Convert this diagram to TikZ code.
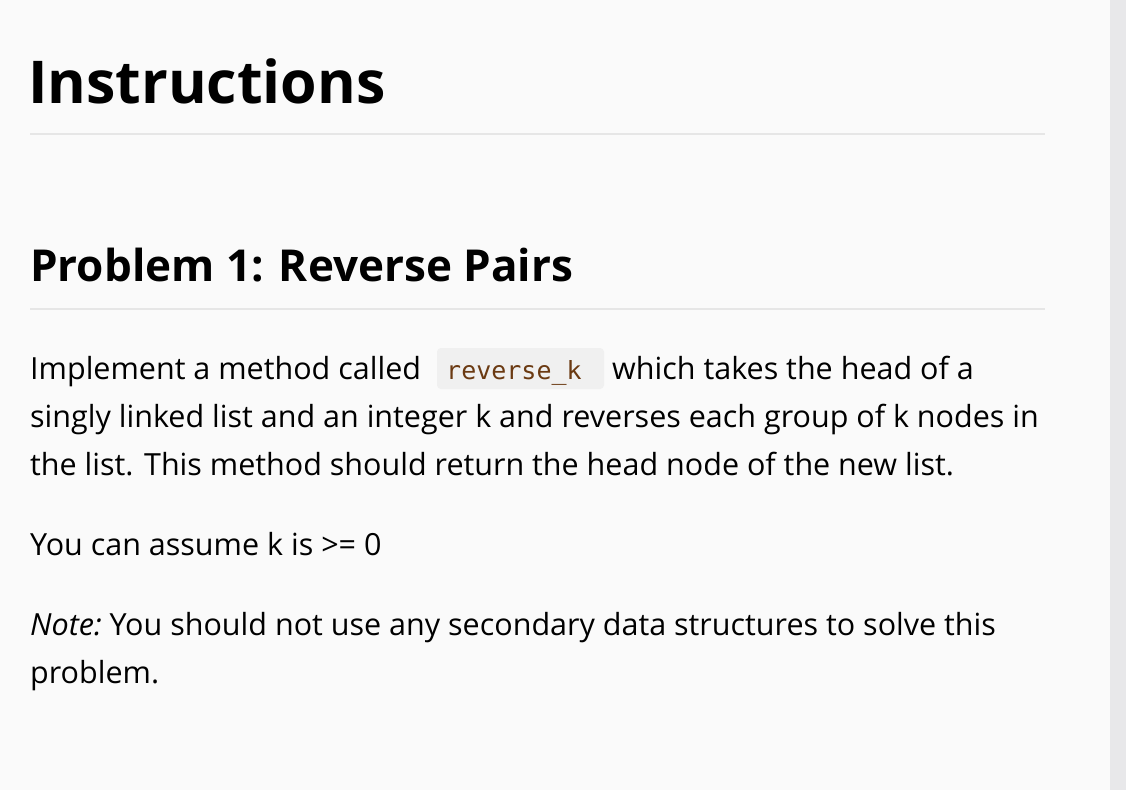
\documentclass[tikz,border=0pt]{standalone}
\usepackage{fontspec}
\setmainfont{Open Sans}
\setmonofont{DejaVu Sans Mono}
\definecolor{codebg}{HTML}{F0F0F0}
\definecolor{codefg}{HTML}{6B3A12}
\definecolor{rulec}{HTML}{E6E6E6}
\definecolor{barc}{HTML}{E8E8EA}
\begin{document}
\begin{tikzpicture}[x=1pt,y=-1pt,
  txt/.style={anchor=base west,inner sep=0pt,font=\fontsize{30.5}{36}\selectfont},
  hrule/.style={draw=rulec,line width=1.5pt}]
\useasboundingbox (0,0) rectangle (1126,790);
\fill[white!98!black] (0,0) rectangle (1110,790);
\fill[barc] (1110,0) rectangle (1126,790);
\node[anchor=base west,inner sep=0pt,font=\fontsize{59}{70}\selectfont\bfseries] (h1) at (28,103) {Instructions};
\coordinate (r1a) at (30,134); \coordinate (r1b) at (1045,134);
\draw[hrule] (r1a) -- (r1b);
\node[anchor=base west,inner sep=0pt,font=\fontsize{44}{50}\selectfont\bfseries] (h2) at (30,281) {Problem 1: Reverse Pairs};
\coordinate (r2a) at (30,309); \coordinate (r2b) at (1045,309);
\draw[hrule] (r2a) -- (r2b);
\node[txt] (l1a) at (30,379) {Implement a method called};
\fill[codebg,rounded corners=4pt] (437,348) rectangle (604,389);
\node[txt,font=\fontsize{25}{30}\selectfont\ttfamily,text=codefg] (code) at (446,379) {reverse\_k};
\node[txt] (l1b) at (612,379) {which takes the head of a};
\node[txt] (l2) at (30,427) {singly linked list and an integer k and reverses each group of k nodes in};
\node[txt] (l3) at (30,475) {the list. This method should return the head node of the new list.};
\node[txt] (l4) at (30,555) {You can assume k is >= 0};
\node[txt] (l5) at (30,635) {\itshape Note:\upshape\ You should not use any secondary data structures to solve this};
\node[txt] (l6) at (30,683) {problem.};
\end{tikzpicture}
\end{document}
